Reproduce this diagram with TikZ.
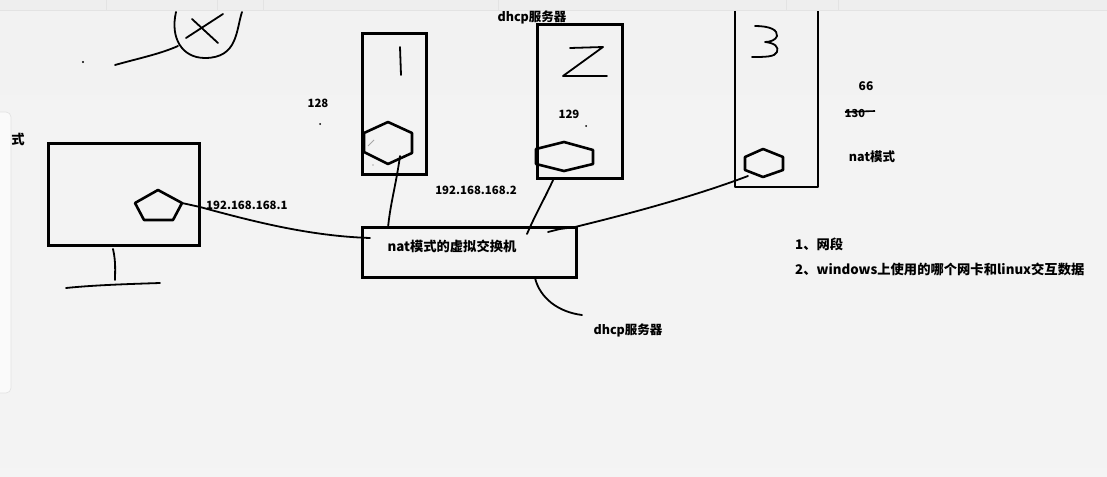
\documentclass[tikz,border=0pt]{standalone}
\usepackage{fontspec}
\setmainfont{Noto Sans CJK SC}
\begin{document}
\begin{tikzpicture}[x=1pt,y=-1pt,
  frame/.style={draw=black,line width=3pt,inner sep=0pt,outer sep=0pt},
  ink/.style={draw=black,line width=1.8pt,line cap=round,line join=round},
  inkthick/.style={draw=black,line width=2.6pt,line join=round},
  num/.style={font=\fontsize{11.4}{13}\selectfont\bfseries,inner sep=0pt},
  cjk/.style={font=\fontsize{13.3}{15}\selectfont\bfseries,inner sep=0pt},
  dotmark/.style={fill=black,draw=none}]
% background
\useasboundingbox (0,0) rectangle (1107,476);
\shade[top color=gray!10,middle color=white!98!gray,bottom color=gray!9] (0,0) rectangle (1107,476);
% toolbar strip
\fill[gray!13] (0,0) rectangle (1107,10);
\draw[gray!22,line width=0.6pt] (0,10.5) -- (1107,10.5);
\foreach \sx in {106,217,263,498,786,838}
  \draw[gray!22,line width=0.5pt] (\sx,0) -- (\sx,10);
% left side panel
\draw[gray!22,fill=white!96!gray,rounded corners=5pt,line width=0.7pt] (-10,112) rectangle (11,393);
\node[cjk] (shi) at (18,139) {式};

% hand-drawn circle with X
\draw[ink] (176,12) .. controls (170,38) and (182,58) .. (205,58)
           .. controls (238,58) and (236,30) .. (242,12);
\draw[ink] (186,38) -- (223,14);
\draw[ink] (192,19) -- (218,43);
\draw[ink] (115,65) .. controls (140,58) and (160,54) .. (178,46);
\fill[dotmark] (83,62) circle (1.1);

% monitor
\node[frame,minimum width=151pt,minimum height=102pt] (mon) at (123.5,194) {};
\coordinate (pt) at (158,190);
\coordinate (pr) at (182,203);
\coordinate (pbr) at (173,220);
\coordinate (pbl) at (144,220);
\coordinate (pl) at (135,203);
\draw[inkthick] (pt) -- (pr) -- (pbr) -- (pbl) -- (pl) -- cycle;
\draw[ink] (113,249) .. controls (116,262) and (115,272) .. (115,280);
\draw[ink] (66,288) .. controls (95,285) and (130,284) .. (160,283);

% box 1
\node[frame,minimum width=64pt,minimum height=140pt] (b1) at (394,104) {};
\draw[ink] (400,47) -- (401,75);
\coordinate (h1t) at (388,122);
\coordinate (h1rt) at (412,133);
\coordinate (h1rb) at (412,153);
\coordinate (h1b) at (388,164);
\coordinate (h1lb) at (364,152);
\coordinate (h1lt) at (364,133);
\draw[inkthick] (h1t) -- (h1rt) -- (h1rb) -- (h1b) -- (h1lb) -- (h1lt) -- cycle;
\draw[gray!70,line width=0.8pt] (368,146) -- (374,140);
\fill[gray!60] (373,165) circle (0.8);
\node[num] (l128) at (318,103) {128};
\fill[dotmark] (320,124) circle (1);

% box 2
\node[frame,minimum width=85pt,minimum height=153pt] (b2) at (579.5,101.5) {};
\draw[ink] (570,48) -- (603,47) -- (563,76) -- (607,76);
\coordinate (h2t) at (564,142);
\coordinate (h2rt) at (593,150);
\coordinate (h2rb) at (593,164);
\coordinate (h2b) at (564,171);
\coordinate (h2lb) at (536,164);
\coordinate (h2lt) at (536,149);
\draw[inkthick] (h2t) -- (h2rt) -- (h2rb) -- (h2b) -- (h2lb) -- (h2lt) -- cycle;
\node[num] (l129) at (569,114) {129};
\fill[dotmark] (586,126) circle (1);
\node[cjk,font=\fontsize{12.5}{14}\selectfont\bfseries] (dhcp1) at (532,17) {dhcp服务器};

% box 3 (open top)
\coordinate (b3tl) at (735,11);
\coordinate (b3bl) at (735,187);
\coordinate (b3br) at (818,187);
\coordinate (b3tr) at (818,11);
\draw[inkthick] (b3tl) -- (b3bl) -- (b3br) -- (b3tr);
\draw[ink] (755,26) .. controls (770,26) and (778,30) .. (777,36)
           .. controls (776,40) and (770,42) .. (765,42)
           .. controls (775,43) and (779,47) .. (777,52)
           .. controls (775,57) and (765,57) .. (752,57);
\coordinate (h3t) at (763,149);
\coordinate (h3rt) at (783,157);
\coordinate (h3rb) at (783,170);
\coordinate (h3b) at (763,177);
\coordinate (h3lb) at (745,170);
\coordinate (h3lt) at (745,157);
\draw[inkthick] (h3t) -- (h3rt) -- (h3rb) -- (h3b) -- (h3lb) -- (h3lt) -- cycle;

% switch
\node[frame,minimum width=214pt,minimum height=50pt] (sw) at (469,252) {};
\node[cjk] (swl) at (452,246) {nat模式的虚拟交换机};

% connectors
\coordinate (c1in) at (370,238);
\draw[ink] (pr) -- (200,207) .. controls (255,222) and (310,236) .. (c1in);
\coordinate (c2in) at (388,228);
\coordinate (c2s) at (400,156);
\draw[ink] (c2s) .. controls (396,185) and (390,205) .. (c2in);
\coordinate (c3s) at (554,178);
\coordinate (c3in) at (527,234);
\draw[ink] (c3s) .. controls (545,198) and (535,215) .. (c3in);
\coordinate (c4s) at (748,176);
\coordinate (c4in) at (548,232);
\draw[ink] (c4s) .. controls (690,198) and (620,216) .. (575,227) -- (560,229) -- (c4in);
\coordinate (c5s) at (535,278);
\coordinate (c5e) at (582,315);
\draw[ink] (c5s) .. controls (540,298) and (558,312) .. (c5e);

% labels
\node[num,anchor=west] (ip1) at (206,205) {192.168.168.1};
\node[num] (ip2) at (476,190) {192.168.168.2};
\node[cjk,font=\fontsize{12.5}{14}\selectfont\bfseries] (dhcp2) at (628,330) {dhcp服务器};
\node[num,font=\fontsize{12}{13}\selectfont\bfseries] (l66) at (866,86) {66};
\node[num,font=\fontsize{11}{12}\selectfont\bfseries] (l130) at (855,114) {130};
\draw[black,line width=1.6pt] (845,112) -- (875,111);
\node[cjk,font=\fontsize{12.5}{14}\selectfont\bfseries] (nat) at (872,157) {nat模式};
\node[cjk,anchor=west] (q1) at (795,244) {1、网段};
\node[cjk,anchor=west] (q2) at (795,269) {2、windows上使用的哪个网卡和linux交互数据};
\end{tikzpicture}
\end{document}
